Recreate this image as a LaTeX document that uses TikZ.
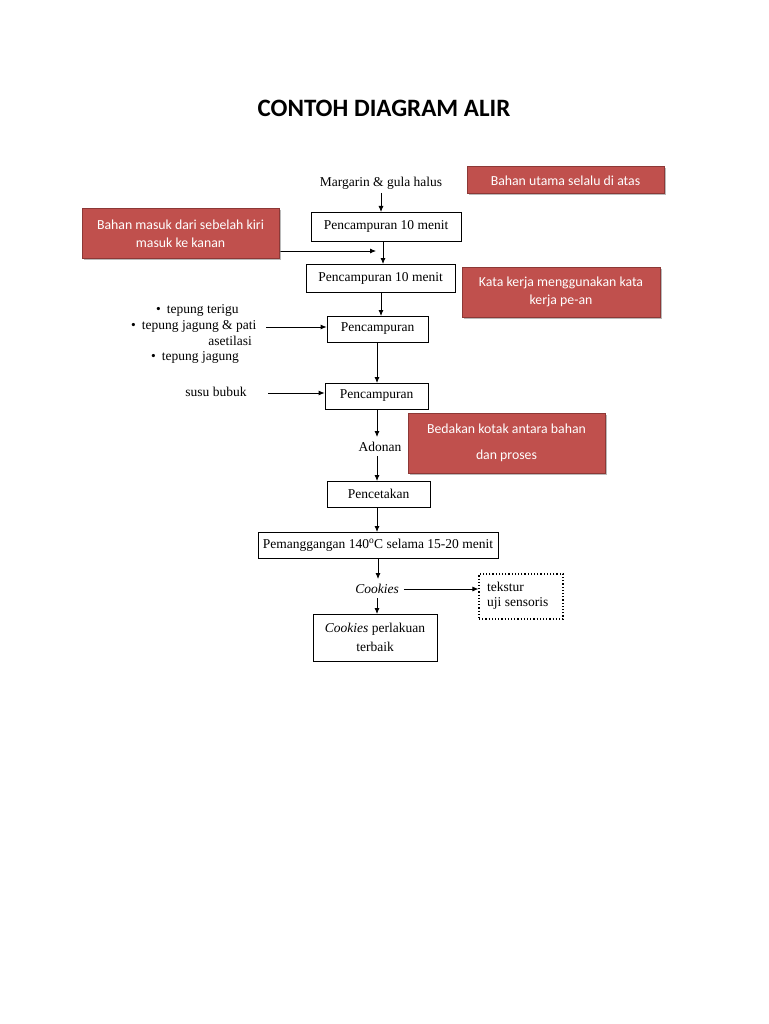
\documentclass[tikz,border=0pt]{standalone}
\usepackage{fontspec}
\setmainfont{Liberation Serif}
\newfontfamily\calib{Carlito}
\usetikzlibrary{arrows.meta,shadows}
\definecolor{calred}{HTML}{C0504D}
\definecolor{calborder}{HTML}{8C3836}
\tikzset{
  proc/.style={draw=black, line width=0.8pt, fill=white, inner sep=0pt, font=\fontsize{13.5}{15}\selectfont, align=center},
  lbl/.style={inner sep=1pt, font=\fontsize{13.5}{15}\selectfont, align=center},
  callout/.style={draw=calborder, line width=1pt, fill=calred, text=white, inner sep=0pt, align=center,
     font=\calib\fontsize{13.8}{18}\selectfont, drop shadow={shadow xshift=1.5pt, shadow yshift=-1.5pt, fill=black!45, opacity=0.6}},
  arr/.style={-{Latex[length=6pt,width=5pt]}, line width=0.8pt},
}
\begin{document}
\begin{tikzpicture}[x=1pt,y=-1pt]
\useasboundingbox[fill=white] (0,0) rectangle (768,1024);
% title
\node[font=\calib\bfseries\fontsize{25}{30}\selectfont] (title) at (384,108) {CONTOH DIAGRAM ALIR};
% main column
\node[lbl] (marg) at (381,183) {Margarin \& gula halus};
\node[proc, minimum width=150pt, minimum height=29pt] (p1) at (386,226.5) {Pencampuran 10 menit};
\node[proc, minimum width=149pt, minimum height=28pt] (p2) at (380.5,278) {Pencampuran 10 menit};
\node[proc, minimum width=101pt, minimum height=26pt] (p3) at (377.5,329) {Pencampuran};
\node[proc, minimum width=103pt, minimum height=26pt] (p4) at (376.5,396) {Pencampuran};
\node[lbl] (adonan) at (380,447) {Adonan};
\node[proc, minimum width=103pt, minimum height=26pt] (p5) at (378.5,494) {Pencetakan};
\node[proc, minimum width=240pt, minimum height=26pt] (p6) at (378,545) {Pemanggangan 140\textsuperscript{o}C selama 15-20 menit};
\node[lbl] (cook) at (377,589) {\textit{Cookies}};
\node[proc, minimum width=124pt, minimum height=47pt, font=\fontsize{13.5}{19}\selectfont] (p7) at (375,637.5) {\textit{Cookies} perlakuan\\terbaik};
\node[draw=black, dotted, line width=1.2pt, minimum width=84pt, minimum height=45pt, inner sep=0pt] (uji) at (521,596.5) {};
\node[lbl, align=left, anchor=west] (ujit) at (486,596) {tekstur\\uji sensoris};
% left inputs
\node[lbl, anchor=west] (b1) at (155,310) {\textbullet\hspace{6pt}tepung terigu};
\node[lbl, anchor=west] (b2) at (130,326) {\textbullet\hspace{6pt}tepung jagung \& pati};
\node[lbl] (b2b) at (230,341) {asetilasi};
\node[lbl, anchor=west] (b3) at (150,357) {\textbullet\hspace{6pt}tepung jagung};
\coordinate (b2e) at (266,327);
\node[lbl] (susu) at (216,392) {susu bubuk};
\coordinate (susue) at (268,393);
% arrows
\coordinate (m1) at (381,193);
\draw[arr] (m1) -- (381,212);
\draw[arr] (383,241) -- (383,264);
\draw[arr] (381,292) -- (381,316);
\draw[arr] (377,342) -- (377,383);
\draw[arr] (377,409) -- (377,437);
\draw[arr] (377,456) -- (377,481);
\draw[arr] (377,507) -- (377,532);
\draw[arr] (378,558) -- (378,579);
\draw[arr] (377,598) -- (377,614);
\draw[arr] (b2e) -- (p3.west |- b2e);
\draw[arr] (susue) -- (p4.west |- susue);
\draw[arr] (cook.east) ++(4pt,0) -- (uji.west |- cook.east);
% callouts
\node[callout, minimum width=197pt, minimum height=27pt] (c1) at (565.5,180.5) {Bahan utama selalu di atas};
\draw[arr] (279,251) -- (376,251);
\node[callout, minimum width=197pt, minimum height=49pt] (c2) at (180.5,233.5) {Bahan masuk dari sebelah kiri\\masuk ke kanan};
\node[callout, minimum width=198pt, minimum height=50pt] (c3) at (561,292) {Kata kerja menggunakan kata\\kerja pe-an};
\node[callout, minimum width=197pt, minimum height=60pt, font=\calib\fontsize{13.8}{26}\selectfont] (c4) at (506.5,443) {Bedakan kotak antara bahan\\dan proses};
\end{tikzpicture}
\end{document}
